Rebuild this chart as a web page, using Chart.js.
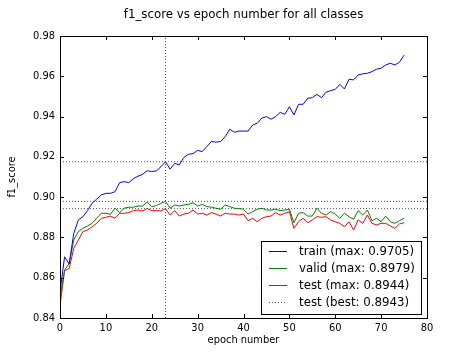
<!DOCTYPE html>
<html>
<head>
<meta charset="utf-8">
<script src="https://cdn.jsdelivr.net/npm/chart.js@4/dist/chart.umd.min.js"></script>
<style>
html,body{margin:0;padding:0;background:#fff;}
#wrap{width:474px;height:355px;}
</style>
</head>
<body>
<div id="wrap"><canvas id="c" width="474" height="355"></canvas></div>
<script>
const epochs = [0,1,2,3,4,5,6,7,8,9,10,11,12,13,14,15,16,17,18,19,20,21,22,23,24,25,26,27,28,29,30,31,32,33,34,35,36,37,38,39,40,41,42,43,44,45,46,47,48,49,50,51,52,53,54,55,56,57,58,59,60,61,62,63,64,65,66,67,68,69,70,71,72,73,74,75];
const train = [0.853,0.8704,0.8668,0.882,0.8887,0.8903,0.8933,0.897,0.899,0.9011,0.9019,0.9019,0.9027,0.9072,0.9077,0.9072,0.9092,0.9104,0.9113,0.9131,0.9127,0.913,0.9151,0.9176,0.9139,0.9168,0.916,0.9197,0.9213,0.9216,0.9232,0.9226,0.9251,0.9276,0.9273,0.9276,0.93,0.9337,0.9322,0.9328,0.9328,0.9328,0.9358,0.9367,0.9392,0.94,0.9387,0.94,0.9421,0.9411,0.9449,0.9408,0.9461,0.9461,0.9491,0.9494,0.951,0.9494,0.9521,0.9529,0.9535,0.956,0.9537,0.9585,0.9582,0.9607,0.9612,0.9615,0.9623,0.9635,0.964,0.9656,0.9665,0.9656,0.967,0.9705];
const valid = [0.850,0.8638,0.867,0.8787,0.8829,0.8845,0.8857,0.887,0.8895,0.892,0.892,0.8915,0.8945,0.8923,0.8945,0.895,0.895,0.8956,0.8956,0.8975,0.8953,0.8958,0.8969,0.8979,0.8945,0.8961,0.8956,0.8961,0.8964,0.8972,0.8956,0.8964,0.8953,0.895,0.8945,0.894,0.8961,0.8953,0.8945,0.8943,0.894,0.8916,0.8928,0.894,0.8945,0.8936,0.8936,0.894,0.8933,0.8936,0.894,0.8873,0.892,0.8923,0.8906,0.8906,0.8945,0.892,0.8911,0.8928,0.8916,0.8895,0.892,0.8903,0.889,0.8933,0.8911,0.8936,0.8883,0.8895,0.8878,0.8906,0.8878,0.887,0.8883,0.8895];
const test = [0.846,0.8635,0.8645,0.8746,0.8787,0.8829,0.8837,0.8853,0.887,0.8895,0.89,0.8906,0.8895,0.892,0.892,0.8923,0.8933,0.8936,0.8931,0.8944,0.8933,0.8933,0.8931,0.8943,0.8911,0.8933,0.8906,0.8916,0.892,0.8936,0.8916,0.892,0.8911,0.8923,0.8916,0.8906,0.892,0.8916,0.8916,0.8911,0.8916,0.8883,0.8895,0.8878,0.8895,0.8903,0.8906,0.8923,0.8911,0.892,0.8928,0.8845,0.8878,0.8895,0.8873,0.8887,0.8903,0.89,0.8903,0.8887,0.8878,0.887,0.8853,0.8878,0.8837,0.8887,0.887,0.8911,0.887,0.8862,0.887,0.887,0.8857,0.8845,0.8867,0.8873];
const seriesLabels = ['train (max: 0.9705)','valid (max: 0.8979)','test (max: 0.8944)','test (best: 0.8943)'];
const chartTitle = 'f1_score vs epoch number for all classes';
const bestEpoch = 23;
const xTicks = [0,10,20,30,40,50,60,70,80];
const yTicks = [0.84,0.86,0.88,0.90,0.92,0.94,0.96,0.98];

const pts = arr => arr.map((v,i)=>({x:epochs[i], y:v}));
const X_MIN = xTicks[0], X_MAX = xTicks[xTicks.length-1];
const Y_MIN = yTicks[0], Y_MAX = yTicks[yTicks.length-1];
const bestLevels = [train[bestEpoch], valid[bestEpoch], test[bestEpoch]];

const FONT = "'DejaVu Sans', sans-serif";
const dotStyle = {borderColor:'#555', borderWidth:1, borderDash:[1,2], pointRadius:0, fill:false, tension:0};

const datasets = [
  {label:seriesLabels[0], data:pts(train), borderColor:'#0000ff', borderWidth:1, pointRadius:0, tension:0, fill:false, inLegend:true},
  {label:seriesLabels[1], data:pts(valid), borderColor:'#008000', borderWidth:1, pointRadius:0, tension:0, fill:false, inLegend:true},
  {label:seriesLabels[2], data:pts(test), borderColor:'#ff0000', borderWidth:1, pointRadius:0, tension:0, fill:false, inLegend:true},
  Object.assign({label:seriesLabels[3], data:[{x:X_MIN,y:bestLevels[2]},{x:X_MAX,y:bestLevels[2]}], inLegend:true}, dotStyle),
  Object.assign({label:'', data:[{x:X_MIN,y:bestLevels[1]},{x:X_MAX,y:bestLevels[1]}]}, dotStyle),
  Object.assign({label:'', data:[{x:X_MIN,y:bestLevels[0]},{x:X_MAX,y:bestLevels[0]}]}, dotStyle),
  Object.assign({label:'', data:[{x:bestEpoch,y:Y_MIN},{x:bestEpoch,y:Y_MAX}]}, dotStyle)
];

const framePlugin = {
  id:'frame',
  afterDatasetsDraw(chart){
    const {ctx, chartArea:a, scales:{x,y}} = chart;
    ctx.save();
    ctx.strokeStyle = '#000';
    ctx.lineWidth = 1;
    ctx.beginPath();
    const L = 4;
    xTicks.forEach(t=>{
      const px = Math.round(x.getPixelForValue(t))+0.5;
      ctx.moveTo(px, a.bottom); ctx.lineTo(px, a.bottom-L);
      ctx.moveTo(px, a.top); ctx.lineTo(px, a.top+L);
    });
    yTicks.forEach(t=>{
      const py = Math.round(y.getPixelForValue(t))+0.5;
      ctx.moveTo(a.left, py); ctx.lineTo(a.left+L, py);
      ctx.moveTo(a.right, py); ctx.lineTo(a.right-L, py);
    });
    ctx.stroke();
    ctx.strokeRect(Math.round(a.left)+0.5, Math.round(a.top)+0.5, Math.round(a.right-a.left), Math.round(a.bottom-a.top));
    ctx.restore();
  }
};

const legendPlugin = {
  id:'boxLegend',
  afterDraw(chart){
    const {ctx, chartArea:a} = chart;
    const items = chart.data.datasets.filter(d=>d.inLegend);
    const boxW = 160, rowH = 17, firstRow = 10, boxH = 73;
    const bx = Math.round(a.right - 6 - boxW), by = Math.round(a.bottom - 4 - boxH);
    ctx.save();
    ctx.fillStyle = '#fff';
    ctx.fillRect(bx, by, boxW, boxH);
    ctx.strokeStyle = '#000';
    ctx.lineWidth = 1;
    ctx.strokeRect(bx+0.5, by+0.5, boxW, boxH);
    ctx.font = '11.8px ' + FONT;
    ctx.textBaseline = 'middle';
    ctx.textAlign = 'left';
    items.forEach((d,i)=>{
      const cy = Math.round(by + firstRow + rowH*i) + 0.5;
      ctx.strokeStyle = d.borderColor;
      ctx.lineWidth = d.borderWidth;
      ctx.setLineDash(d.borderDash || []);
      ctx.beginPath();
      ctx.moveTo(bx+8, cy); ctx.lineTo(bx+26, cy);
      ctx.stroke();
      ctx.setLineDash([]);
      ctx.fillStyle = '#000';
      ctx.fillText(d.label, bx+38, cy);
    });
    ctx.restore();
  }
};

new Chart(document.getElementById('c'), {
  type:'line',
  data:{datasets},
  options:{
    responsive:false,
    animation:false,
    events:[],
    layout:{padding:{left:0,right:47,top:0,bottom:0}},
    plugins:{
      legend:{display:false},
      tooltip:{enabled:false},
      title:{display:false}
    },
    scales:{
      x:{type:'linear', min:X_MIN, max:X_MAX,
        afterBuildTicks(s){ s.ticks = xTicks.map(v=>({value:v})); },
        afterFit(s){ s.height = 37; },
        grid:{display:false, drawTicks:false}, border:{display:false},
        ticks:{color:'#000', padding:4, maxRotation:0, font:{family:FONT,size:9.9}, callback:v=>String(v)},
        title:{display:true, text:'epoch number', color:'#000', font:{family:FONT,size:9.9}, padding:{top:0,bottom:9}}
      },
      xTop:{type:'linear', position:'top', min:X_MIN, max:X_MAX,
        afterFit(s){ s.height = 36; },
        grid:{display:false, drawTicks:false}, border:{display:false},
        ticks:{display:false},
        title:{display:true, text:chartTitle, color:'#000', font:{family:FONT,size:11.8}, padding:{top:8,bottom:0}}
      },
      y:{type:'linear', min:Y_MIN, max:Y_MAX,
        afterBuildTicks(s){ s.ticks = yTicks.map(v=>({value:v})); },
        afterFit(s){ s.width = 60; },
        grid:{display:false, drawTicks:false}, border:{display:false},
        ticks:{color:'#000', padding:5, font:{family:FONT,size:9.9}, callback:v=>Number(v).toFixed(2)},
        title:{display:true, text:'f1_score', color:'#000', font:{family:FONT,size:9.9}, padding:{top:6,bottom:0}}
      }
    }
  },
  plugins:[framePlugin, legendPlugin]
});
</script>
</body>
</html>
